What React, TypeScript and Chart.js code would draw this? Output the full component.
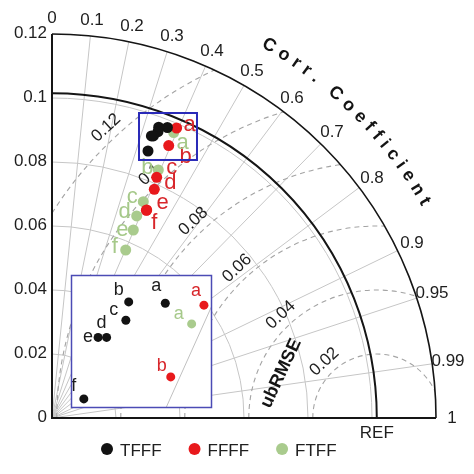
import React, { useEffect, useRef } from "react";
import { Chart, registerables } from "chart.js";

Chart.register(...registerables);

const FONT = "'Liberation Sans', Arial, Helvetica, sans-serif";

// ---------------- data ----------------
const CASES = ["a", "b", "c", "d", "e", "f"];
const SERIES = ["TFFF", "FFFF", "FTFF"];
// standard deviation and correlation of each case
const TFFF_STD = [0.09768, 0.0968, 0.09541, 0.09368, 0.09347, 0.08867];
const TFFF_CORR = [0.3692, 0.3444, 0.3472, 0.3383, 0.3323, 0.3383];
const FFFF_STD = [0.09864, 0.09261, 0.08203, 0.0783, 0.07142, 0.07129];
const FFFF_CORR = [0.3948, 0.3938, 0.3989, 0.4083, 0.4143, 0.4138];
const FTFF_STD = [0.09696, 0.08432, 0.07337, 0.06846, 0.06401, 0.05733];
const FTFF_CORR = [0.3922, 0.394, 0.3889, 0.3866, 0.397, 0.4017];
const REF_STD = 0.1015;

const STD_TICKS = [0, 0.02, 0.04, 0.06, 0.08, 0.1, 0.12];
const STD_TICK_LABELS = ["0", "0.02", "0.04", "0.06", "0.08", "0.1", "0.12"];
const CORR_TICKS = [0, 0.1, 0.2, 0.3, 0.4, 0.5, 0.6, 0.7, 0.8, 0.9, 0.95, 0.99, 1];
const CORR_TICK_LABELS = ["0", "0.1", "0.2", "0.3", "0.4", "0.5", "0.6", "0.7", "0.8", "0.9", "0.95", "0.99", "1"];
const RMSE_LEVELS = [0.02, 0.04, 0.06, 0.08, 0.1, 0.12];
const RMSE_LABELS = ["0.02", "0.04", "0.06", "0.08", "0.1", "0.12"];
const CORR_TITLE = "Corr. Coefficient";
const RMSE_TITLE = "ubRMSE";
const REF_LABEL = "REF";

// zoom window marked on the main diagram, and range shown in the inset
const ZOOM_X = [0.02719, 0.04531];
const ZOOM_Y = [0.08063, 0.09531];
const INSET_X = [0.029078, 0.039506];
const INSET_Y = [0.082782, 0.092903];
const INSET_GRID_CORR = [0.4];

// ---------------- styles ----------------
const COLORS = ["#121212", "#e8191c", "#a9cb8d"];
const LABEL_COLORS = ["#1c1c1c", "#d8262b", "#a6c98a"];
const MAIN_LABEL_OFFSETS: (number[][] | null)[] = [
  null,
  [[13, -3], [17, 11], [15, -9], [16, -6], [16, -7], [8, 13]],
  [[9, 10], [-11, -2], [-11, -5], [-12, -4], [-11, 0], [-11, -3]],
];
const INSET_LABEL_OFFSETS: number[][][] = [
  [[-9, -17], [-10, -12], [-12, -10], [-5, -14], [-10, 0], [-10, -13]],
  [[-8, -14], [-9, -11], [-9, -11], [-9, -11], [-9, -11], [-9, -11]],
  [[-13, -10], [-12, -10], [-12, -10], [-12, -10], [-12, -10], [-12, -10]],
];

const STDS = [TFFF_STD, FFFF_STD, FTFF_STD];
const CORRS = [TFFF_CORR, FFFF_CORR, FTFF_CORR];

const toXY = (s: number, r: number) => ({ x: s * r, y: s * Math.sqrt(Math.max(0, 1 - r * r)) });

const makeDatasets = (radius: number) =>
  SERIES.map((name, i) => ({
    label: name,
    data: STDS[i].map((s, j) => toXY(s, CORRS[i][j])),
    backgroundColor: COLORS[i],
    borderColor: COLORS[i],
    borderWidth: 0,
    pointRadius: radius,
    pointHoverRadius: radius,
    clip: false as any,
  }));

const taylorGrid = {
  id: "taylorGrid",
  beforeDatasetsDraw(chart: any) {
    const ctx: CanvasRenderingContext2D = chart.ctx;
    const xs = chart.scales.x;
    const ys = chart.scales.y;
    const ox = xs.getPixelForValue(0);
    const oy = ys.getPixelForValue(0);
    const k = (xs.getPixelForValue(0.1) - ox) / 0.1;
    const maxS = STD_TICKS[STD_TICKS.length - 1];
    const P = (s: number, r: number) => [
      xs.getPixelForValue(s * r),
      ys.getPixelForValue(s * Math.sqrt(Math.max(0, 1 - r * r))),
    ];
    const refX = xs.getPixelForValue(REF_STD);

    ctx.save();
    // std arcs
    ctx.strokeStyle = "#c6c6c6";
    ctx.lineWidth = 1;
    STD_TICKS.forEach((s) => {
      if (s <= 0 || s >= maxS) return;
      ctx.beginPath();
      ctx.arc(ox, oy, s * k, -Math.PI / 2, 0);
      ctx.stroke();
    });
    // correlation rays
    CORR_TICKS.forEach((r) => {
      if (r <= 0 || r >= 1) return;
      const [x, y] = P(maxS, r);
      ctx.beginPath();
      ctx.moveTo(ox, oy);
      ctx.lineTo(x, y);
      ctx.stroke();
    });
    // RMSE dashed arcs
    ctx.save();
    ctx.beginPath();
    ctx.moveTo(ox, oy);
    ctx.arc(ox, oy, maxS * k, -Math.PI / 2, 0);
    ctx.closePath();
    ctx.clip();
    ctx.setLineDash([5, 4]);
    ctx.strokeStyle = "#a4a4a4";
    ctx.lineWidth = 1.1;
    RMSE_LEVELS.forEach((lev) => {
      ctx.beginPath();
      ctx.arc(refX, oy, lev * k, Math.PI, 2 * Math.PI);
      ctx.stroke();
    });
    ctx.restore();

    // RMSE labels
    ctx.fillStyle = "#1e1e1e";
    ctx.font = `17px ${FONT}`;
    ctx.textAlign = "center";
    ctx.textBaseline = "middle";
    const la = (133 * Math.PI) / 180;
    RMSE_LEVELS.forEach((lev, i) => {
      const rr = (lev + 0.004) * k;
      ctx.save();
      ctx.translate(refX + rr * Math.cos(la), oy - rr * Math.sin(la));
      ctx.rotate(-(la - Math.PI / 2));
      ctx.fillText(RMSE_LABELS[i], 0, 0);
      ctx.restore();
    });
    // ubRMSE title
    {
      const ta = (155 * Math.PI) / 180;
      const rr = 0.033 * k;
      ctx.save();
      ctx.translate(refX + rr * Math.cos(ta), oy - rr * Math.sin(ta));
      ctx.rotate(-(ta - Math.PI / 2));
      ctx.font = `bold 18px ${FONT}`;
      ctx.fillStyle = "#141414";
      ctx.fillText(RMSE_TITLE, 0, 0);
      ctx.restore();
    }

    // axes
    ctx.strokeStyle = "#151515";
    ctx.lineWidth = 2;
    ctx.beginPath();
    ctx.moveTo(ox, ys.getPixelForValue(maxS));
    ctx.lineTo(ox, oy);
    ctx.lineTo(xs.getPixelForValue(maxS), oy);
    ctx.stroke();
    // outer arc
    ctx.lineWidth = 1.6;
    ctx.beginPath();
    ctx.arc(ox, oy, maxS * k, -Math.PI / 2, 0);
    ctx.stroke();
    // REF arc
    ctx.lineWidth = 2;
    ctx.beginPath();
    ctx.arc(ox, oy, REF_STD * k, -Math.PI / 2, 0);
    ctx.stroke();

    // std tick labels
    ctx.fillStyle = "#1e1e1e";
    ctx.font = `17px ${FONT}`;
    ctx.textAlign = "right";
    ctx.textBaseline = "middle";
    STD_TICKS.forEach((s, i) => {
      ctx.fillText(STD_TICK_LABELS[i], ox - 5, ys.getPixelForValue(s) - 1);
    });
    // corr tick labels
    ctx.textAlign = "center";
    CORR_TICKS.forEach((r, i) => {
      const [x, y] = P(0.125, r);
      ctx.fillText(CORR_TICK_LABELS[i], x, y);
    });
    // REF label
    ctx.fillText(REF_LABEL, refX, oy + 15);

    // Corr. Coefficient curved title
    ctx.font = `bold 18px ${FONT}`;
    ctx.fillStyle = "#141414";
    const chars = CORR_TITLE.split("");
    const spacing = 5.7;
    const widths = chars.map((c) => ctx.measureText(c).width);
    const total = widths.reduce((a, b) => a + b, 0) + spacing * (chars.length - 1);
    const Rt = 0.1347 * k;
    const mid = (45.2 * Math.PI) / 180;
    let cursor = -total / 2;
    chars.forEach((c, i) => {
      const center = cursor + widths[i] / 2;
      const a = mid - center / Rt;
      ctx.save();
      ctx.translate(ox + Rt * Math.cos(a), oy - Rt * Math.sin(a));
      ctx.rotate(Math.PI / 2 - a);
      ctx.fillText(c, 0, 0);
      ctx.restore();
      cursor += widths[i] + spacing;
    });
    ctx.restore();
  },
  afterDatasetsDraw(chart: any) {
    const ctx: CanvasRenderingContext2D = chart.ctx;
    const xs = chart.scales.x;
    const ys = chart.scales.y;
    ctx.save();
    ctx.font = `22px ${FONT}`;
    ctx.textAlign = "center";
    ctx.textBaseline = "middle";
    SERIES.forEach((_, i) => {
      const offs = MAIN_LABEL_OFFSETS[i];
      if (!offs) return;
      const meta = chart.getDatasetMeta(i);
      ctx.fillStyle = LABEL_COLORS[i];
      meta.data.forEach((el: any, j: number) => {
        ctx.fillText(CASES[j], el.x + offs[j][0], el.y + offs[j][1]);
      });
    });
    // zoom box
    const x0 = xs.getPixelForValue(ZOOM_X[0]);
    const x1 = xs.getPixelForValue(ZOOM_X[1]);
    const y0 = ys.getPixelForValue(ZOOM_Y[1]);
    const y1 = ys.getPixelForValue(ZOOM_Y[0]);
    ctx.strokeStyle = "#2a2ab8";
    ctx.lineWidth = 2;
    ctx.strokeRect(x0, y0, x1 - x0, y1 - y0);
    ctx.restore();
  },
  afterDraw(chart: any) {
    const ctx: CanvasRenderingContext2D = chart.ctx;
    ctx.save();
    ctx.font = `17px ${FONT}`;
    ctx.textAlign = "left";
    ctx.textBaseline = "middle";
    let x = 107;
    const y = 449;
    chart.data.datasets.forEach((ds: any) => {
      ctx.fillStyle = ds.backgroundColor;
      ctx.beginPath();
      ctx.arc(x, y, 6, 0, Math.PI * 2);
      ctx.fill();
      ctx.fillStyle = "#202020";
      ctx.fillText(ds.label, x + 13, y + 2);
      x += 13 + ctx.measureText(ds.label).width + 33;
    });
    ctx.restore();
  },
};

const insetPlugin = {
  id: "insetPlugin",
  beforeDraw(chart: any) {
    const ctx: CanvasRenderingContext2D = chart.ctx;
    const a = chart.chartArea;
    ctx.save();
    ctx.fillStyle = "#ffffff";
    ctx.fillRect(a.left, a.top, a.right - a.left, a.bottom - a.top);
    ctx.restore();
  },
  beforeDatasetsDraw(chart: any) {
    const ctx: CanvasRenderingContext2D = chart.ctx;
    const a = chart.chartArea;
    const xs = chart.scales.x;
    const ys = chart.scales.y;
    ctx.save();
    ctx.beginPath();
    ctx.rect(a.left, a.top, a.right - a.left, a.bottom - a.top);
    ctx.clip();
    ctx.strokeStyle = "#c0c0c0";
    ctx.lineWidth = 1;
    INSET_GRID_CORR.forEach((r) => {
      const p0 = toXY(0.07, r);
      const p1 = toXY(0.12, r);
      ctx.beginPath();
      ctx.moveTo(xs.getPixelForValue(p0.x), ys.getPixelForValue(p0.y));
      ctx.lineTo(xs.getPixelForValue(p1.x), ys.getPixelForValue(p1.y));
      ctx.stroke();
    });
    ctx.restore();
  },
  afterDatasetsDraw(chart: any) {
    const ctx: CanvasRenderingContext2D = chart.ctx;
    const a = chart.chartArea;
    ctx.save();
    ctx.font = `18px ${FONT}`;
    ctx.textAlign = "center";
    ctx.textBaseline = "middle";
    SERIES.forEach((_, i) => {
      const meta = chart.getDatasetMeta(i);
      ctx.fillStyle = LABEL_COLORS[i];
      meta.data.forEach((el: any, j: number) => {
        if (el.x < a.left || el.x > a.right || el.y < a.top || el.y > a.bottom) return;
        const o = INSET_LABEL_OFFSETS[i][j];
        ctx.fillText(CASES[j], el.x + o[0], el.y + o[1]);
      });
    });
    ctx.strokeStyle = "#4b4bb5";
    ctx.lineWidth = 1.5;
    ctx.strokeRect(a.left, a.top, a.right - a.left, a.bottom - a.top);
    ctx.restore();
  },
};

export default function App() {
  const mainRef = useRef<HTMLCanvasElement>(null);
  const insetRef = useRef<HTMLCanvasElement>(null);

  useEffect(() => {
    Chart.defaults.font.family = FONT;
    const main = new Chart(mainRef.current as HTMLCanvasElement, {
      type: "scatter",
      data: { datasets: makeDatasets(5.5) as any },
      options: {
        responsive: false,
        animation: false,
        devicePixelRatio: 1,
        events: [],
        layout: { padding: { left: 52, top: 34, right: 6, bottom: 56 } },
        scales: {
          x: { type: "linear", min: 0, max: 0.13, display: false },
          y: { type: "linear", min: 0, max: 0.12, display: false },
        },
        plugins: { legend: { display: false }, tooltip: { enabled: false } },
      },
      plugins: [taylorGrid],
    });
    const inset = new Chart(insetRef.current as HTMLCanvasElement, {
      type: "scatter",
      data: { datasets: makeDatasets(4.5) as any },
      options: {
        responsive: false,
        animation: false,
        devicePixelRatio: 1,
        events: [],
        layout: { padding: 1 },
        scales: {
          x: { type: "linear", min: INSET_X[0], max: INSET_X[1], display: false },
          y: { type: "linear", min: INSET_Y[0], max: INSET_Y[1], display: false },
        },
        plugins: { legend: { display: false }, tooltip: { enabled: false } },
      },
      plugins: [insetPlugin],
    });
    return () => {
      main.destroy();
      inset.destroy();
    };
  }, []);

  return (
    <div style={{ position: "fixed", left: 0, top: 0, width: 474, height: 474, background: "#ffffff" }}>
      <canvas
        ref={mainRef}
        width={474}
        height={474}
        style={{ position: "absolute", left: 0, top: 0, width: 474, height: 474 }}
      />
      <canvas
        ref={insetRef}
        width={149}
        height={141}
        style={{ position: "absolute", left: 67, top: 271, width: 149, height: 141 }}
      />
    </div>
  );
}
